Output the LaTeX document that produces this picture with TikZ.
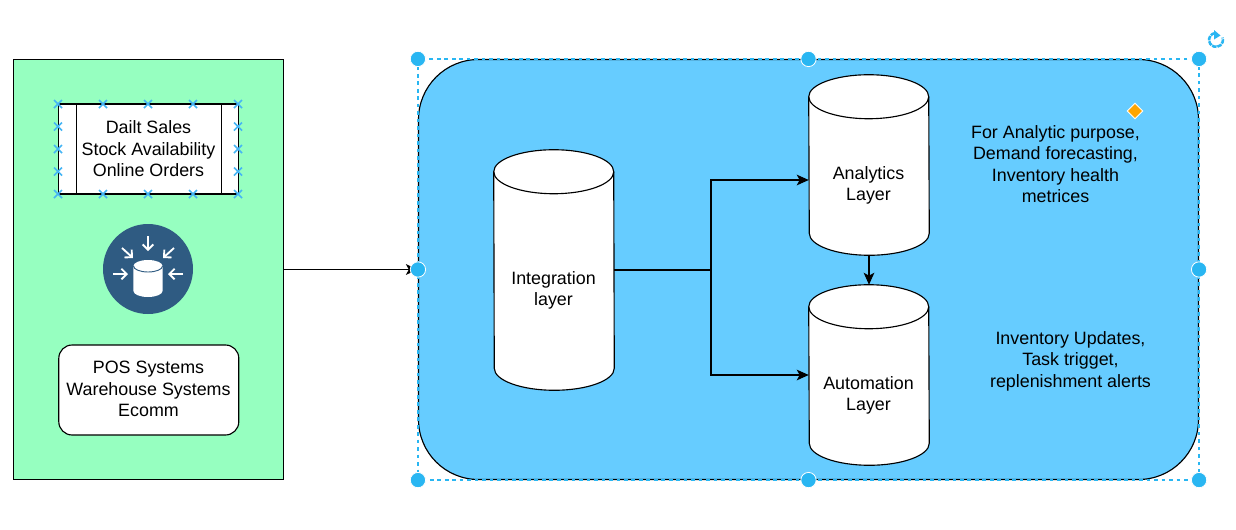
\documentclass[tikz,border=0pt]{standalone}
\usepackage{fontspec}
\setmainfont{Liberation Sans}
\usetikzlibrary{calc,arrows.meta,shapes.geometric}
\definecolor{panelGreen}{HTML}{96FFC0}
\definecolor{panelBlue}{HTML}{66CCFF}
\definecolor{handleBlue}{HTML}{29B6F2}
\definecolor{crossBlue}{HTML}{45B5F5}
\definecolor{iconBlue}{HTML}{2F5B82}
\definecolor{tipOrange}{HTML}{FFA500}

\begin{document}
\begin{tikzpicture}[x=0.75pt, y=-0.75pt, font=\fontsize{13.4}{16.1}\selectfont]

\tikzset{
  panel/.style={draw=black, line width=0.85pt, inner sep=0pt},
  box/.style={draw=black, line width=0.85pt, fill=white, minimum width=135pt, minimum height=67.5pt, inner sep=0pt, align=center},
  cyl/.style={minimum width=90pt, inner sep=0pt},
  cylline/.style={draw=black, line width=0.85pt, fill=white},
  lbl/.style={align=center, inner sep=0pt},
  conn/.style={draw=black, line width=0.85pt, -{Stealth[length=9pt, width=8pt, inset=2.2pt]}},
  handle/.style={circle, fill=handleBlue, draw=white, line width=0.6pt, minimum size=11.5pt, inner sep=0pt},
  iconarrow/.style={draw=white, line width=1.4pt, -{Straight Barb[length=4pt, width=8pt]}},
  cross/.style={draw=crossBlue, line width=1.1pt},
}

\useasboundingbox (0,0) rectangle (1236,529);
\fill[white] (0,0) rectangle (1236,529);

% left panel
\node[panel, fill=panelGreen, minimum width=202.5pt, minimum height=315pt, name=source] at (148.8,269.8) {};

\node[box, name=feeds] at (148.8,149) {};
\node[lbl, name=feedsText] at (148.5,149) {Dailt Sales\\Stock Availability\\Online Orders};
\draw[line width=0.85pt] ($(feeds.north west)+(18,0)$) -- ($(feeds.south west)+(18,0)$);
\draw[line width=0.85pt] ($(feeds.north east)+(-18,0)$) -- ($(feeds.south east)+(-18,0)$);

% connection markers
\foreach \px in {58,103,148,193,238} {
  \foreach \py in {104,194} {
    \draw[cross] (\px-4,\py-4) -- (\px+4,\py+4) (\px-4,\py+4) -- (\px+4,\py-4);
  }
}
\foreach \px in {58,238} {
  \foreach \py in {126.5,149,171.5} {
    \draw[cross] (\px-4,\py-4) -- (\px+4,\py+4) (\px-4,\py+4) -- (\px+4,\py-4);
  }
}

% icon
\node[circle, fill=iconBlue, minimum size=67.5pt, inner sep=0pt, name=icon] at (148,269) {};
\fill[white] (133.5,266) arc[start angle=180, end angle=0, x radius=10.9pt, y radius=4.5pt] -- (162.5,291)
  arc[start angle=360, end angle=180, x radius=10.9pt, y radius=4.5pt] -- cycle;
\draw[iconBlue, line width=0.7pt] (133.5,266) arc[start angle=180, end angle=360, x radius=10.9pt, y radius=4.5pt];
\draw[iconarrow] (148,236) -- (148,251);
\draw[iconarrow] (122,248) -- (133,258);
\draw[iconarrow] (174,248) -- (163,258);
\draw[iconarrow] (113,274) -- (128,274);
\draw[iconarrow] (183,274) -- (168,274);

\node[box, rounded corners=10pt, name=systems] at (148.8,390) {};
\node[lbl, name=systemsText] at (148.5,389) {POS Systems\\Warehouse Systems\\Ecomm};

% right panel
\node[panel, fill=panelBlue, rounded corners=45pt, minimum width=585pt, minimum height=315pt, name=platform] at (808.5,269.5) {};

\node[cyl, minimum height=180pt, name=integration] at (554,270) {};
\node[cyl, minimum height=135pt, name=analytics] at (869,165) {};
\node[cyl, minimum height=135pt, name=automation] at (869,375) {};

\foreach \cname in {integration,analytics,automation} {
  \draw[cylline] ($(\cname.north west)+(0,22)$)
    arc[start angle=180, end angle=0, x radius=45pt, y radius=16.5pt]
    -- ($(\cname.south east)+(0,-22)$)
    arc[start angle=360, end angle=180, x radius=45pt, y radius=16.5pt] -- cycle;
  \draw[line width=0.85pt] ($(\cname.north west)+(0,22)$)
    arc[start angle=180, end angle=360, x radius=45pt, y radius=16.5pt];
}

\node[lbl, name=integrationText] at ($(integration.center)+(-0.5,20.5)$) {Integration\\layer};
\node[lbl, name=analyticsText] at ($(analytics.center)+(-0.5,20.5)$) {Analytics\\Layer};
\node[lbl, name=automationText] at ($(automation.center)+(-0.5,20.5)$) {Automation\\Layer};

\node[lbl, name=analyticsNote] at (1055.5,164) {For Analytic purpose,\\Demand forecasting,\\Inventory health\\metrices};
\node[lbl, name=automationNote] at (1070.5,361) {Inventory Updates,\\Task trigget,\\replenishment alerts};

% connectors
\coordinate (split) at (711,270);
\coordinate (analyticsIn) at ($(analytics.west)+(0,15)$);
\draw[conn] (source.east |- platform.west) -- (platform.west);
\draw[line width=0.85pt] (integration.east) -- (split);
\draw[conn] (split) |- (analyticsIn);
\draw[conn] (split) |- (automation.west);
\draw[conn] (analytics.south) -- (automation.north);

% selection
\draw[handleBlue, line width=1pt, dash pattern=on 2.8pt off 2.8pt] (platform.north west) rectangle (platform.south east);
\node[handle, name=h1] at (platform.north west) {};
\node[handle, name=h2] at (platform.north) {};
\node[handle, name=h3] at (platform.north east) {};
\node[handle, name=h4] at (platform.west) {};
\node[handle, name=h5] at (platform.east) {};
\node[handle, name=h6] at (platform.south west) {};
\node[handle, name=h7] at (platform.south) {};
\node[handle, name=h8] at (platform.south east) {};

\node[diamond, fill=tipOrange, draw=white, line width=0.7pt, minimum size=12pt, inner sep=0pt, name=tip] at (1135,111) {};

% rotate icon
\draw[handleBlue, line width=1.9pt, dash pattern=on 3.4pt off 0.7pt] (1214.8,33.1) arc[start angle=100, end angle=380, radius=5.2pt];
\fill[handleBlue] (1214,30) -- (1220.5,35.5) -- (1214,39.5) -- cycle;

\end{tikzpicture}
\end{document}
